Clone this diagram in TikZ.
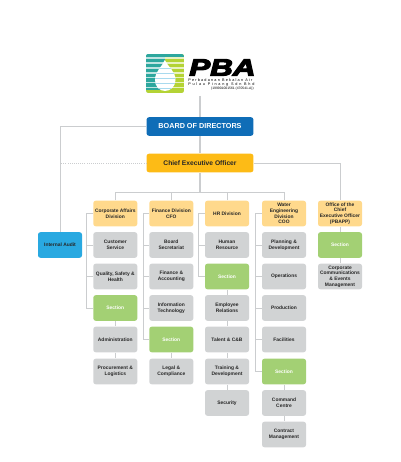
\documentclass[tikz,border=0pt]{standalone}
\usepackage{fontspec}
\setmainfont{Liberation Sans}
\newfontfamily\logofont[FakeBold=4.5]{Liberation Sans}
\newfontfamily\subfont[LetterSpace=32]{Liberation Sans}
\newfontfamily\subfontb[LetterSpace=46]{Liberation Sans}
\definecolor{boardblue}{HTML}{0F6DB7}
\definecolor{ceoyellow}{HTML}{FDBB16}
\definecolor{divorange}{HTML}{FFD98C}
\definecolor{unitgrey}{HTML}{D1D3D4}
\definecolor{secgreen}{HTML}{A3D074}
\definecolor{auditblue}{HTML}{29A9E1}
\definecolor{linegrey}{HTML}{CBCDCF}
\definecolor{logoteal}{HTML}{2DA79E}
\definecolor{logolime}{HTML}{B4D335}
\definecolor{dropblue}{HTML}{A9DAEE}
\tikzset{
  box/.style={rounded corners=0.6mm,minimum width=11mm,minimum height=6.4mm,inner sep=0pt,
    align=center,font=\bfseries\fontsize{3.5}{4.1}\selectfont,text=black!85},
  divbox/.style={box,fill=divorange},
  unitbox/.style={box,fill=unitgrey},
  secbox/.style={box,fill=secgreen,text=white},
  auditbox/.style={box,fill=auditblue},
  topbox/.style={box,minimum width=26.7mm,minimum height=4.65mm},
  link/.style={draw=linegrey,line width=0.5pt},
  trunk/.style={draw=linegrey,line width=0.9pt}
}
\begin{document}
\begin{tikzpicture}[x=0.25mm,y=-0.25mm]
\useasboundingbox (0,0) rectangle (400,462);

% Logo
\begin{scope}
\clip[rounded corners=0.6mm] (146,54) rectangle (184,93);
\fill[logoteal!30] (146,54) rectangle (165,93);
\fill[logolime!30] (165,54) rectangle (184,93);
\foreach \y in {54,58.9,...,90} {
  \fill[logoteal] (146,\y) rectangle (165,\y+3.2);
  \fill[logolime] (165,\y) rectangle (184,\y+3.2);
}
\fill[logoteal] (146,54) rectangle (184,57);
\fill[logolime] (146,90.5) rectangle (184,93);
\end{scope}
\begin{scope}
\clip (164.8,60) .. controls (162,67) and (155,71) .. (155,80) .. controls (155,86.5) and (159.5,91) .. (165,91)
  .. controls (170.5,91) and (175.5,86.5) .. (175.5,80) .. controls (175.5,71) and (168,67) .. (164.8,60);
\fill[white] (150,58) rectangle (180,93);
\foreach \y in {68,72.9,...,90} {
  \fill[dropblue] (150,\y) rectangle (180,\y+1.2);
}
\end{scope}
\node[inner sep=0pt,anchor=west] (pba) at (189,67.5)
  {\scalebox{1.32}[1]{\logofont\bfseries\itshape\fontsize{16.9}{17}\selectfont PBA}};
\node[inner sep=0pt,anchor=west] (line1) at (188,80.2)
  {\subfont\fontsize{2.7}{3}\selectfont Perbadanan Bekalan Air};
\node[inner sep=0pt,anchor=west] (line2) at (188,84.4)
  {\subfontb\fontsize{2.7}{3}\selectfont Pulau Pinang Sdn Bhd};
\node[inner sep=0pt,anchor=east] (line3) at (254,88.8)
  {\fontsize{2.4}{3}\selectfont (199901001561 (470541-A))};

% Top boxes
\node[topbox,fill=boardblue,text=white,font=\bfseries\fontsize{5.15}{6}\selectfont] (board) at (200,126.5) {BOARD OF DIRECTORS};
\node[topbox,fill=ceoyellow,font=\bfseries\fontsize{4.75}{6}\selectfont] (ceo) at (200,163) {Chief Executive Officer};
\node[auditbox] (audit) at (60,245) {Internal Audit};

% Corporate Affairs column
\node[divbox] (cadiv) at (115.3,213.5) {Corporate Affairs\\Division};
\node[unitbox] (caserv) at (115.3,245) {Customer\\Service};
\node[unitbox] (caqual) at (115.3,276.5) {Quality, Safety \&\\Health};
\node[secbox] (casec) at (115.3,308) {Section};
\node[unitbox] (caadm) at (115.3,339.5) {Administration};
\node[unitbox] (caproc) at (115.3,371.5) {Procurement \&\\Logistics};

% Finance column
\node[divbox] (findiv) at (171.3,213.5) {Finance Division\\CFO};
\node[unitbox] (finboard) at (171.3,245) {Board\\Secretariat};
\node[unitbox] (finacc) at (171.3,276.5) {Finance \&\\Accounting};
\node[unitbox] (finit) at (171.3,308) {Information\\Technology};
\node[secbox] (finsec) at (171.3,339.5) {Section};
\node[unitbox] (finlegal) at (171.3,371.5) {Legal \&\\Compliance};

% HR column
\node[divbox] (hrdiv) at (227,213.5) {HR Division};
\node[unitbox] (hrres) at (227,245) {Human\\Resource};
\node[secbox] (hrsec) at (227,276.5) {Section};
\node[unitbox] (hremp) at (227,308) {Employee\\Relations};
\node[unitbox] (hrtal) at (227,339.5) {Talent \& C\&B};
\node[unitbox] (hrtrain) at (227,371.5) {Training \&\\Development};
\node[unitbox] (hrsec2) at (227,403) {Security};

% Water Engineering column
\node[divbox] (wediv) at (284,213.5) {Water\\Engineering\\Division\\COO};
\node[unitbox] (weplan) at (284,245) {Planning \&\\Development};
\node[unitbox] (weops) at (284,276.5) {Operations};
\node[unitbox] (weprod) at (284,308) {Production};
\node[unitbox] (wefac) at (284,339.5) {Facilities};
\node[secbox] (wesec) at (284,371.5) {Section};
\node[unitbox] (wecmd) at (284,403) {Command\\Centre};
\node[unitbox] (wecon) at (284,434.5) {Contract\\Management};

% Office of the CEO column
\node[divbox] (ofdiv) at (340,213.5) {Office of the\\Chief\\Executive Officer\\(PBAPP)};
\node[secbox] (ofsec) at (340,245) {Section};
\node[unitbox] (ofcom) at (340,276.5) {Corporate\\Communications\\\& Events\\Management};

% Main lines
\coordinate (logobase) at (200,96);
\coordinate (splitbar) at (200,192);
\draw[trunk] (logobase) -- (board);
\draw[trunk] (board) -- (ceo);
\draw[trunk] (ceo) -- (splitbar);
\draw[link] (board.west) -| (audit.north);
\draw[link,densely dotted] (ceo.west) -| (audit.north);
\draw[link] (ceo.east) -| (ofdiv.north);
\draw[link] (ofdiv) -- (ofsec);
\draw[link] (ofsec) -- (ofcom);

% Bar over the divisions
\draw[link] (cadiv.north) |- (splitbar);
\draw[link] (findiv.north) |- (splitbar);
\draw[link] (hrdiv.north) |- (splitbar);
\draw[link] (wediv.north) |- (splitbar);

% Side brackets
\draw[link] (cadiv.west) -- ++(-6.6,0) |- (casec.west);
\draw[link] (caserv.west) -- ++(-6.6,0);
\draw[link] (caqual.west) -- ++(-6.6,0);
\draw[link] (findiv.west) -- ++(-6,0) |- (finsec.west);
\draw[link] (finboard.west) -- ++(-6,0);
\draw[link] (finacc.west) -- ++(-6,0);
\draw[link] (finit.west) -- ++(-6,0);
\draw[link] (hrdiv.west) -- ++(-6,0) |- (hrsec.west);
\draw[link] (hrres.west) -- ++(-6,0);
\draw[link] (wediv.west) -- ++(-6.7,0) |- (wesec.west);
\draw[link] (weplan.west) -- ++(-6.7,0);
\draw[link] (weops.west) -- ++(-6.7,0);
\draw[link] (weprod.west) -- ++(-6.7,0);
\draw[link] (wefac.west) -- ++(-6.7,0);

% Links below the sections
\draw[link] (casec) -- (caadm);
\draw[link] (caadm) -- (caproc);
\draw[link] (finsec) -- (finlegal);
\draw[link] (hrsec) -- (hremp);
\draw[link] (hremp) -- (hrtal);
\draw[link] (hrtal) -- (hrtrain);
\draw[link] (hrtrain) -- (hrsec2);
\draw[link] (wesec) -- (wecmd);
\draw[link] (wecmd) -- (wecon);

\end{tikzpicture}
\end{document}
